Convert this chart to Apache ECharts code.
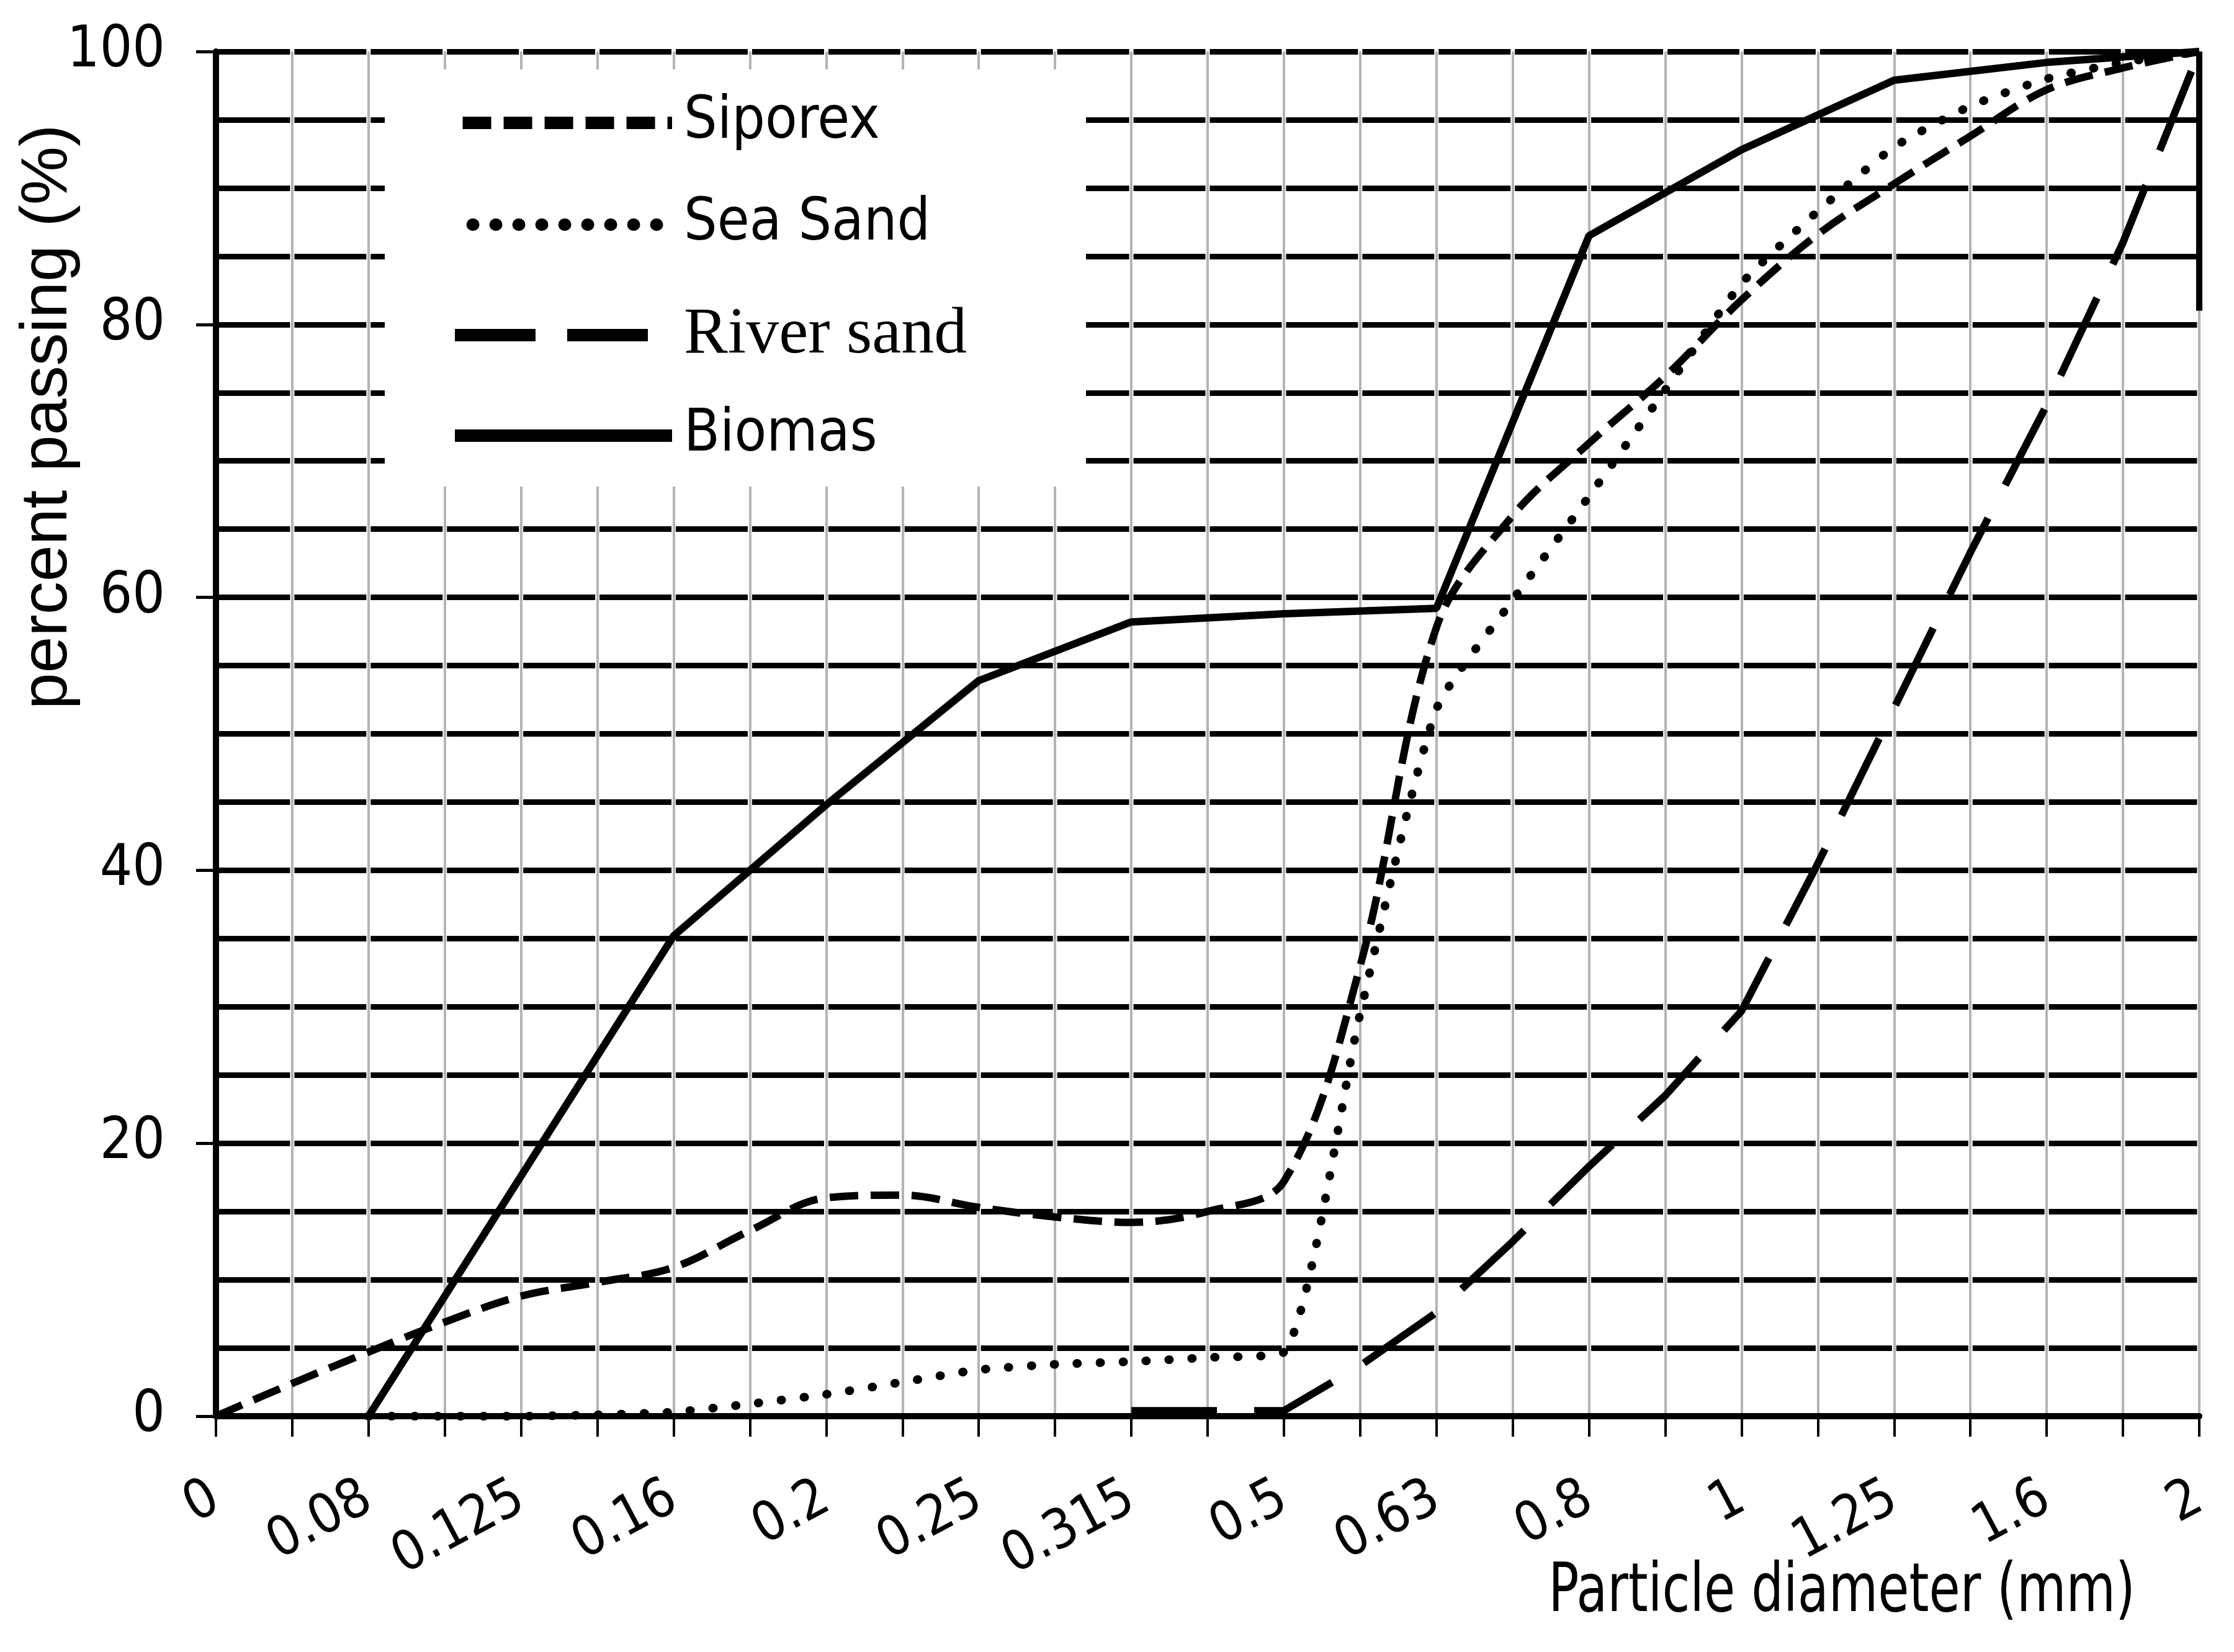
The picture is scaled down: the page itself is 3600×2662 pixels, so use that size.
<!DOCTYPE html>
<html>
<head>
<meta charset="utf-8">
<script src="https://cdn.jsdelivr.net/npm/echarts@6/dist/echarts.min.js"></script>
<style>html,body{margin:0;padding:0;background:#fff}#c{width:3600px;height:2662px}</style>
</head>
<body>
<div id="c"></div>
<script>
// ---- data (x positions: sieve sizes, with half-step points between them) ----
const sieves = ['0','0.08','0.125','0.16','0.2','0.25','0.315','0.5','0.63','0.8','1','1.25','1.6','2'];
// values at each sieve and at each half-step between consecutive sieves (27 points)
const siporex   = [0, 2.4, 4.7, 6.9, 8.8, 9.8, 10.9, 13.6, 16.0, 16.2, 15.3, 14.6, 14.2, 15.0, 17.2, 33.0, 57.8, 66.0, 71.3, 76.2, 81.8, 86.6, 90.3, 93.8, 97.2, 98.8, 100];
const seaSand   = [null, null, 0, 0, 0, 0.1, 0.3, 0.9, 1.6, 2.5, 3.4, 3.8, 4.0, 4.3, 4.7, 29.5, 51.8, 59.8, 67.4, 75.2, 83.0, 88.3, 93.0, 96.0, 98.0, 99.2, 100];
const riverSand = [null, null, null, null, null, null, null, null, null, null, null, null, 0.4, 0.4, 0.4, 3.7, 7.6, 12.8, 18.3, 23.5, 29.7, 40.5, 51.9, 63.3, 74.1, 86.0, 100];
const biomas    = [null, null, 0, null, 17.6, null, 35.2, null, 44.8, null, 53.9, null, 58.2, null, 58.8, null, 59.2, null, 86.5, null, 92.8, null, 97.9, null, 99.2, null, 100];
const seriesNames = ['Siporex', 'Sea Sand', 'River sand', 'Biomas'];
const edgeSegment = [100, 81];

// category axis: sieves interleaved with unnamed half steps
const xData = [];
sieves.forEach((s, i) => { xData.push(s); if (i < sieves.length - 1) xData.push(s + '~'); });

const NARROW = "'Liberation Sans Narrow','DejaVu Sans Condensed','Arial Narrow',sans-serif";
const GL = 348, GR = 56, GT = 83, GB = 380;
const step = (3600 - GL - GR) / (xData.length - 1);
const gap = 7;

const IH = 120;
const legendCommon = {
  orient: 'vertical', padding: 0, itemWidth: 350, itemHeight: IH, selectedMode: false,
  left: 723,
  itemStyle: { opacity: 0, borderWidth: 0 },
  lineStyle: { width: 20 },
  textStyle: { fontFamily: NARROW, fontSize: 94, color: '#000', lineHeight: IH, padding: [0, 0, 0, 14] }
};

const chart = echarts.init(document.getElementById('c'));
chart.setOption({
  animation: false,
  backgroundColor: '#fff',
  grid: { left: GL, right: GR, top: GT, bottom: GB },
  xAxis: [{
    type: 'category', data: xData, boundaryGap: false, position: 'bottom',
    axisLine: { show: true, lineStyle: { color: '#000', width: 9 } },
    axisTick: { show: true, interval: 0, length: 33, lineStyle: { color: '#000', width: 4 } },
    splitLine: { show: true, interval: 0, lineStyle: { color: '#b4b4b4', width: 4 } },
    axisLabel: { interval: 1, rotate: 28, margin: 128, fontFamily: NARROW, fontSize: 88, color: '#000' }
  }, {
    type: 'category', data: xData, boundaryGap: false, position: 'top',
    axisLine: { show: true, lineStyle: { color: '#000', width: 10 } },
    axisTick: { show: false }, axisLabel: { show: false }, splitLine: { show: false }
  }],
  yAxis: [{
    type: 'value', min: 0, max: 100, interval: 5, position: 'left',
    axisLine: { show: false }, axisTick: { show: false }, axisLabel: { show: false },
    splitLine: { show: true, lineStyle: { color: '#000', width: 9, type: [step - gap, gap], dashOffset: step - gap / 2 } }
  }, {
    type: 'value', min: 0, max: 100, interval: 20, position: 'left',
    axisLine: { show: true, lineStyle: { color: '#000', width: 10 } },
    axisTick: { show: true, length: 32, lineStyle: { color: '#000', width: 5 } },
    axisLabel: { margin: 82, fontFamily: NARROW, fontSize: 92, color: '#000' },
    splitLine: { show: false }
  }],
  legend: [
    Object.assign({}, legendCommon, { data: [seriesNames[0]], top: 198 - IH / 2 }),
    Object.assign({}, legendCommon, { data: [seriesNames[1]], top: 362 - IH / 2 }),
    Object.assign({}, legendCommon, { data: [seriesNames[2]], top: 540 - IH / 2, itemWidth: 311,
      lineStyle: { width: 20, type: [130, 51], dashOffset: 0 },
      textStyle: Object.assign({}, legendCommon.textStyle, { fontFamily: "'Liberation Serif','DejaVu Serif',serif", fontSize: 106, padding: [0, 0, 0, 53] }) }),
    Object.assign({}, legendCommon, { data: [seriesNames[3]], top: 702 - IH / 2 })
  ],
  graphic: [
    { type: 'rect', z: 3, silent: true, shape: { x: 620, y: 112, width: 1130, height: 672 }, style: { fill: '#fff' } },
    { type: 'text', z: 5, x: 78, y: 672, rotation: Math.PI / 2,
      style: { text: 'percent passing (%)', fontFamily: "'Liberation Sans',Arial,sans-serif", fontSize: 106, fill: '#000', align: 'center', verticalAlign: 'middle' } },
    { type: 'text', z: 5, x: 2968, y: 2568, scaleX: 0.84,
      style: { text: 'Particle diameter (mm)', fontFamily: NARROW, fontSize: 108, fill: '#000', align: 'center', verticalAlign: 'middle' } }
  ],
  series: [
    { name: seriesNames[0], type: 'line', data: siporex, symbol: 'none', smooth: 0.35, connectNulls: true,
      lineStyle: { color: '#000', width: 12, type: [46, 20] }, itemStyle: { color: '#000' } },
    { name: seriesNames[1], type: 'line', data: seaSand, symbol: 'none', smooth: 0.2, connectNulls: true,
      lineStyle: { color: '#000', width: 14, type: [1, 36], cap: 'round' }, itemStyle: { color: '#000' } },
    { name: seriesNames[2], type: 'line', data: riverSand, symbol: 'none', smooth: false, connectNulls: true,
      lineStyle: { color: '#000', width: 12, type: [138, 60] }, itemStyle: { color: '#000' },
      markLine: { silent: true, symbol: 'none', label: { show: false },
        lineStyle: { color: '#000', width: 10, type: 'solid' },
        data: [[{ coord: [sieves[sieves.length - 1], edgeSegment[0]] }, { coord: [sieves[sieves.length - 1], edgeSegment[1]] }]] } },
    { name: seriesNames[3], type: 'line', data: biomas, symbol: 'none', smooth: false, connectNulls: true,
      lineStyle: { color: '#000', width: 12, type: 'solid' }, itemStyle: { color: '#000' } }
  ]
});
</script>
</body>
</html>
